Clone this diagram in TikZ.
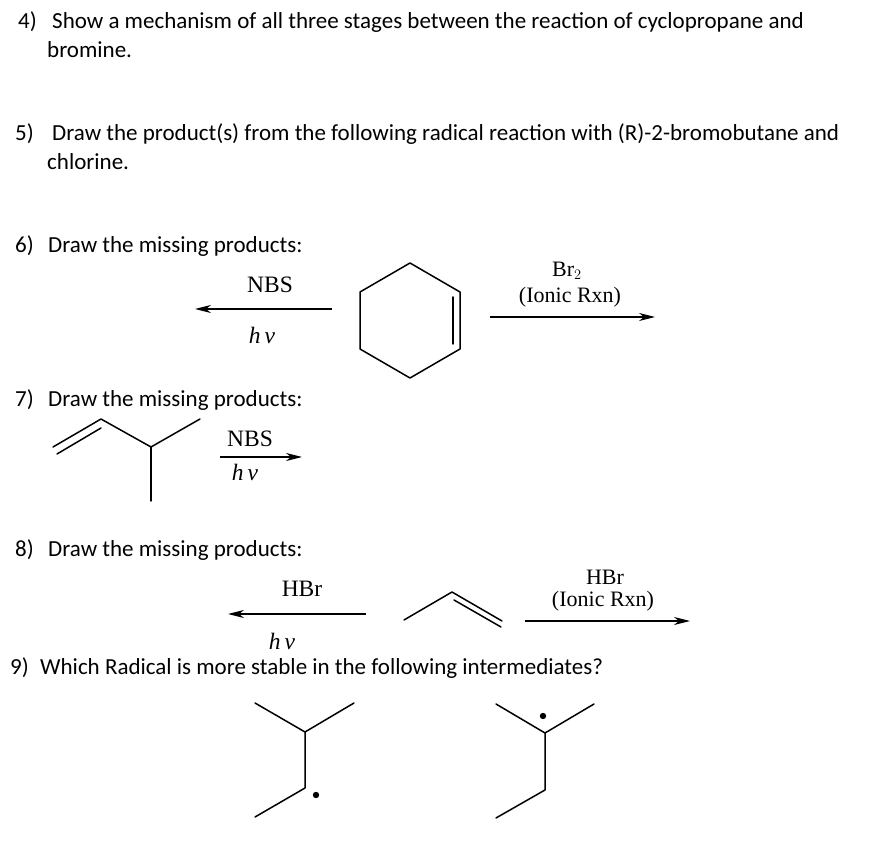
\documentclass[tikz,border=0pt]{standalone}
\usepackage{fontspec}
\setmainfont{Carlito}
\newfontfamily\chem{Liberation Serif}
\usetikzlibrary{arrows.meta}
\begin{document}
\begin{tikzpicture}[x=1pt,y=-1pt,
  q/.style={anchor=west,font=\fontsize{23}{26}\selectfont,inner sep=0},
  lab/.style={font=\chem\fontsize{23.5}{26}\selectfont,inner sep=0},
  slab/.style={font=\chem\fontsize{22}{24}\selectfont,inner sep=0},
  bond/.style={line width=1.5pt,line cap=round,line join=round},
  rxn/.style={line width=1.3pt,-{Stealth[length=16pt,width=8pt,inset=5pt]}}]
\useasboundingbox[fill=white] (0,0) rectangle (884,866);
% questions
\node[q] (n4) at (18,22) {4)}; \node[q] (t4) at (52,22) {Show a mechanism of all three stages between the reaction of cyclopropane and};
\node[q] (t4b) at (47,50) {bromine.};
\node[q] (n5) at (15,134) {5)}; \node[q] (t5) at (52,134) {Draw the product(s) from the following radical reaction with (R)-2-bromobutane and};
\node[q] (t5b) at (47,162) {chlorine.};
\node[q] (n6) at (15,246) {6)}; \node[q] (t6) at (48,246) {Draw the missing products:};
\node[q] (n7) at (15,400) {7)}; \node[q] (t7) at (48,400) {Draw the missing products:};
\node[q] (n8) at (15,550) {8)}; \node[q] (t8) at (48,550) {Draw the missing products:};
\node[q] (n9) at (10,668) {9)}; \node[q] (t9) at (40,668) {Which Radical is more stable in the following intermediates?};
% Q6
\coordinate (a6s) at (332,309); \coordinate (a6e) at (195,309);
\draw[rxn] (a6s) -- (a6e);
\node[lab] (nbs6) at (270,285) {NBS};
\node[lab] (hv6) at (262,335) {\textit{h\,ν}};
\coordinate (c1) at (410,263); \coordinate (c2) at (460,292); \coordinate (c3) at (460,349);
\coordinate (c4) at (410,378); \coordinate (c5) at (360,349); \coordinate (c6) at (360,292);
\draw[bond] (c1)--(c2)--(c3)--(c4)--(c5)--(c6)--cycle;
\coordinate (d1) at (453,297); \coordinate (d2) at (453,344);
\draw[bond] (d1)--(d2);
\coordinate (b6s) at (490,317); \coordinate (b6e) at (655,317);
\draw[rxn] (b6s) -- (b6e);
\node[slab] (br2) at (567,271) {Br$_2$};
\node[slab] (ion6) at (570,297) {(Ionic Rxn)};
% Q7
\coordinate (m1) at (53,447); \coordinate (m2) at (101,419); \coordinate (m3) at (151,447);
\coordinate (m4) at (200,419); \coordinate (m5) at (151,501);
\coordinate (m1b) at (57,454); \coordinate (m2b) at (101,428);
\draw[bond] (m1)--(m2)--(m3)--(m4); \draw[bond] (m3)--(m5); \draw[bond] (m1b)--(m2b);
\coordinate (a7s) at (220,457); \coordinate (a7e) at (302,457);
\draw[rxn] (a7s) -- (a7e);
\node[lab] (nbs7) at (250,439) {NBS};
\node[lab] (hv7) at (245,472) {\textit{h\,ν}};
% Q8
\coordinate (a8s) at (366,614); \coordinate (a8e) at (228,614);
\draw[rxn] (a8s) -- (a8e);
\node[lab] (hbr8) at (302,589) {HBr};
\node[lab] (hv8) at (282,641) {\textit{h\,ν}};
\coordinate (p1) at (404,620); \coordinate (p2) at (452,592); \coordinate (p3) at (502,621);
\coordinate (p2b) at (454,600); \coordinate (p3b) at (501,627);
\draw[bond] (p1)--(p2)--(p3); \draw[bond] (p2b)--(p3b);
\coordinate (b8s) at (525,621); \coordinate (b8e) at (690,621);
\draw[rxn] (b8s) -- (b8e);
\node[slab] (hbr8b) at (605,577) {HBr};
\node[slab] (ion8) at (603,601) {(Ionic Rxn)};
% Q9
\coordinate (l1) at (255,703); \coordinate (l2) at (305,732); \coordinate (l3) at (354,703);
\coordinate (l4) at (305,788); \coordinate (l5) at (255,817);
\draw[bond] (l1)--(l2)--(l3); \draw[bond] (l2)--(l4)--(l5);
\fill (316,795) circle (3.2pt);
\coordinate (r1) at (496,704); \coordinate (r2) at (545,733); \coordinate (r3) at (594,704);
\coordinate (r4) at (545,790); \coordinate (r5) at (496,818);
\draw[bond] (r1)--(r2)--(r3); \draw[bond] (r2)--(r4)--(r5);
\fill (543,716) circle (3.2pt);
\end{tikzpicture}
\end{document}
